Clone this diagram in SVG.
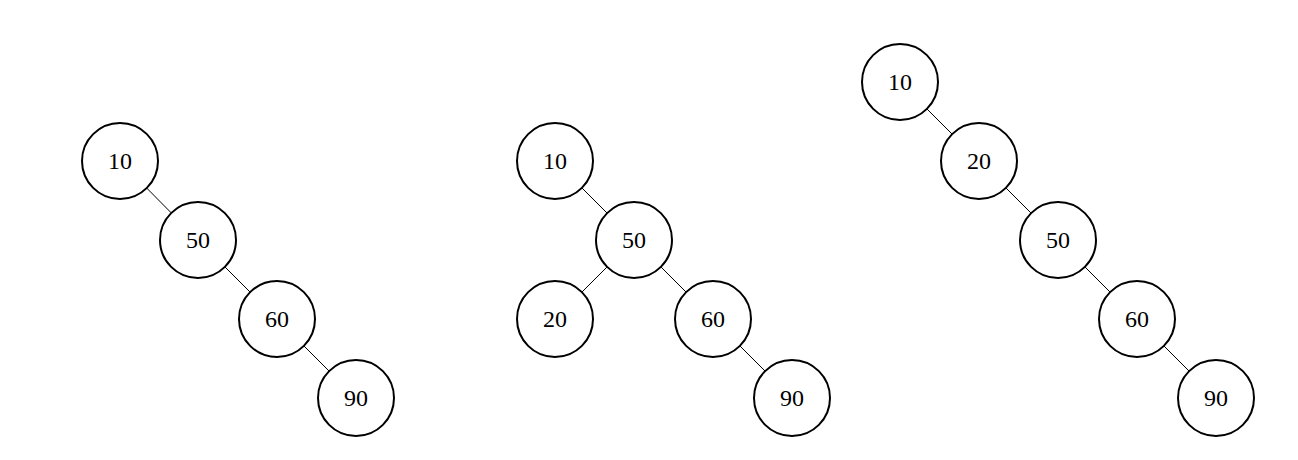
<svg xmlns="http://www.w3.org/2000/svg" width="1298" height="460" viewBox="0 0 1298 460">
<style>
circle{fill:#fff;stroke:#000;stroke-width:2}
line{stroke:#000;stroke-width:1}
text{font-family:"Liberation Serif",serif;font-size:24px;text-anchor:middle;dominant-baseline:central}
</style>
<rect width="1298" height="460" fill="#fff"/>
<g id="edges">
<line x1="120" y1="161" x2="198" y2="240"/><line x1="198" y1="240" x2="277" y2="319"/><line x1="277" y1="319" x2="356" y2="398"/>
<line x1="555" y1="161" x2="634" y2="240"/><line x1="634" y1="240" x2="555" y2="319"/><line x1="634" y1="240" x2="713" y2="319"/><line x1="713" y1="319" x2="792" y2="398"/>
<line x1="900" y1="82" x2="979" y2="161"/><line x1="979" y1="161" x2="1058" y2="240"/><line x1="1058" y1="240" x2="1137" y2="319"/><line x1="1137" y1="319" x2="1216" y2="398"/>
</g>
<g id="a10"><circle cx="120" cy="161" r="38"/><text x="120" y="161">10</text></g>
<g id="a50"><circle cx="198" cy="240" r="38"/><text x="198" y="240">50</text></g>
<g id="a60"><circle cx="277" cy="319" r="38"/><text x="277" y="319">60</text></g>
<g id="a90"><circle cx="356" cy="398" r="38"/><text x="356" y="398">90</text></g>
<g id="b10"><circle cx="555" cy="161" r="38"/><text x="555" y="161">10</text></g>
<g id="b50"><circle cx="634" cy="240" r="38"/><text x="634" y="240">50</text></g>
<g id="b20"><circle cx="555" cy="319" r="38"/><text x="555" y="319">20</text></g>
<g id="b60"><circle cx="713" cy="319" r="38"/><text x="713" y="319">60</text></g>
<g id="b90"><circle cx="792" cy="398" r="38"/><text x="792" y="398">90</text></g>
<g id="c10"><circle cx="900" cy="82" r="38"/><text x="900" y="82">10</text></g>
<g id="c20"><circle cx="979" cy="161" r="38"/><text x="979" y="161">20</text></g>
<g id="c50"><circle cx="1058" cy="240" r="38"/><text x="1058" y="240">50</text></g>
<g id="c60"><circle cx="1137" cy="319" r="38"/><text x="1137" y="319">60</text></g>
<g id="c90"><circle cx="1216" cy="398" r="38"/><text x="1216" y="398">90</text></g>
</svg>
